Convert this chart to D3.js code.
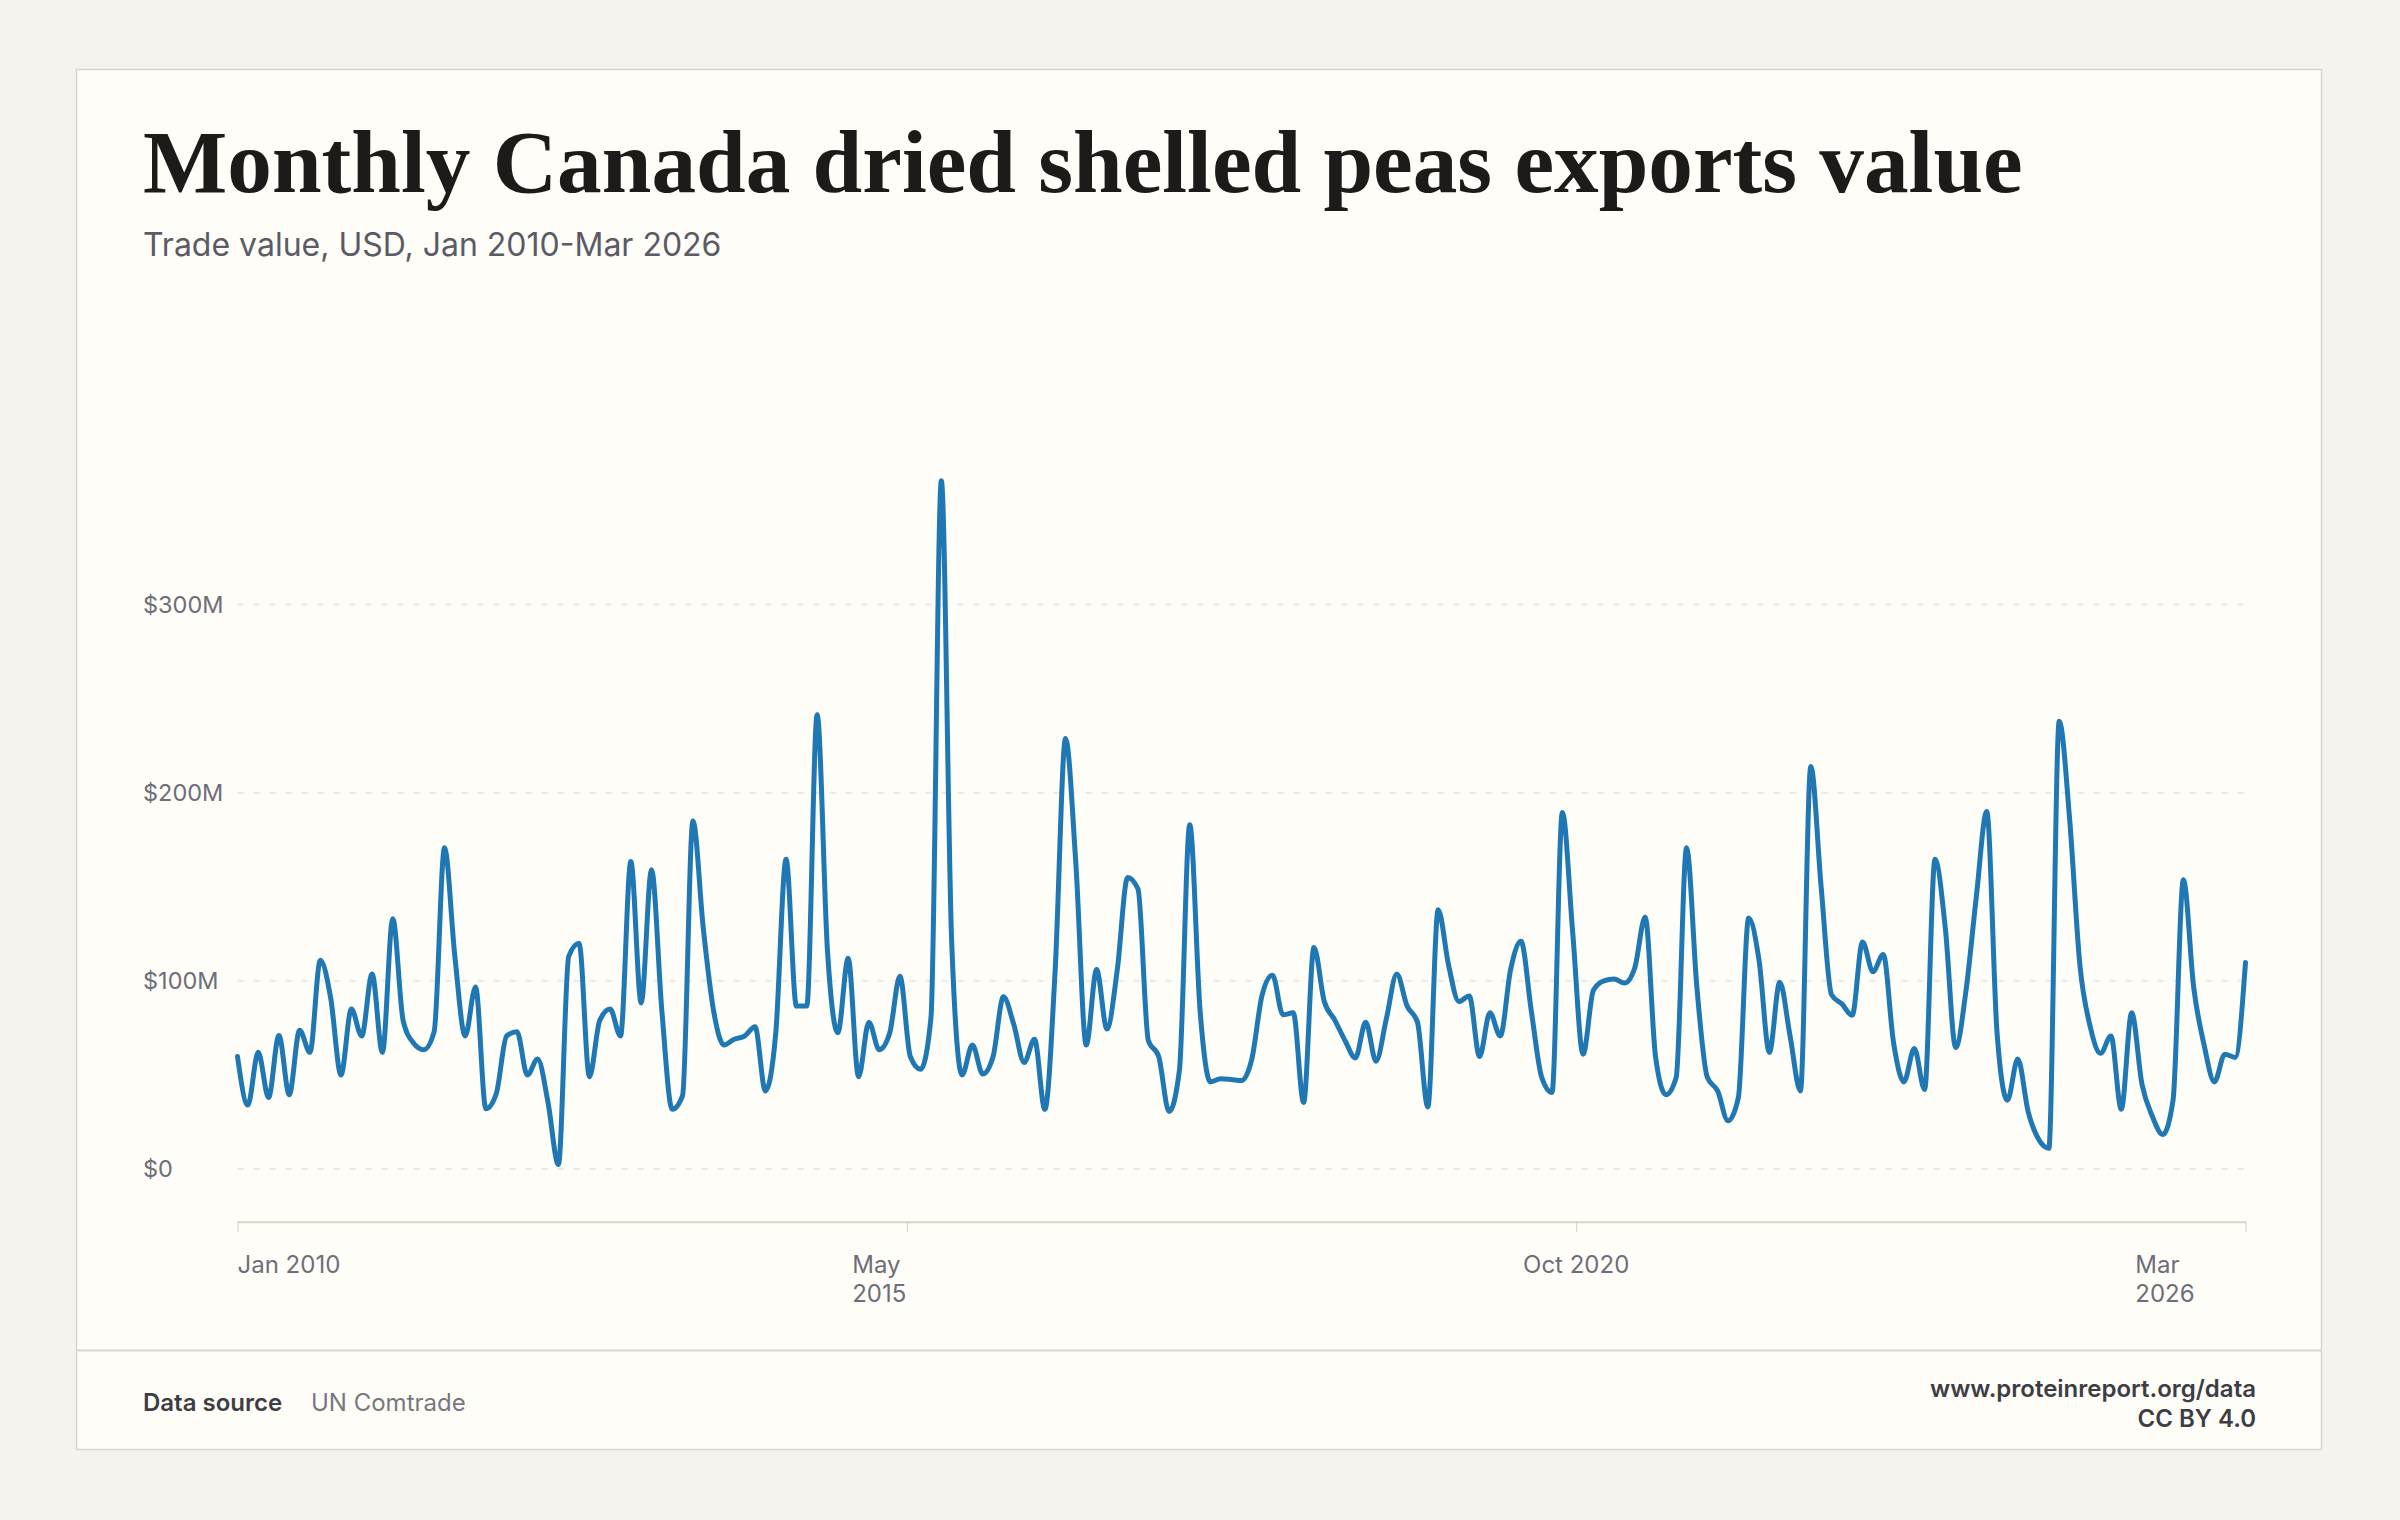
<!DOCTYPE html>
<html>
<head>
<meta charset="utf-8">
<script src="https://cdn.jsdelivr.net/npm/d3@7"></script>
<style>
  html, body { margin: 0; padding: 0; background: #f5f3ee; }
  svg { display: block; }
  .sans { font-family: Inter, 'Noto Sans', sans-serif; }
</style>
</head>
<body>
<div id="chart"></div>
<script>
// Monthly exports, million USD, Jan 2010 .. Mar 2026
var values = [
  59.8, 34, 62, 38, 71, 39.5, 73.7, 62, 111, 91, 50, 85,
  70.7, 103.7, 62, 133, 79, 67, 63.4, 73, 170.7, 113, 70.7, 96.8,
  32, 40, 70.7, 73, 50, 58.5, 35.4, 2.4, 113, 120, 49, 79,
  85, 70.7, 163.4, 88.3, 159, 84, 31.7, 39, 185, 128, 84, 65.9,
  69, 70.7, 75.6, 41.5, 72, 164.6, 86.6, 86.6, 241.5, 116, 72.4, 112,
  49, 78, 63.4, 72, 102.4, 59.8, 53, 80.5, 365.8, 120.7, 50, 65.9,
  50.5, 59.8, 91.5, 76.8, 56.6, 69, 31.7, 106, 228.8, 162, 65.9, 106,
  74.4, 106, 155, 148.8, 68.3, 59.8, 30.5, 52.4, 183, 84, 46.3, 48,
  47.6, 47, 58.5, 92.7, 103, 82, 83, 35.4, 117.8, 89, 79.3, 68.3,
  59, 78, 57.3, 80, 103.6, 86.6, 78, 33, 137.8, 108.5, 89, 92,
  59.8, 83, 70.7, 106, 121, 84, 48.8, 40.7, 189.5, 125.6, 61, 95,
  100, 101, 98.8, 107, 134, 59.8, 39.5, 48.8, 170.7, 96.3, 48.8, 41.5,
  25.6, 37.8, 133.4, 111, 62, 99.3, 70.7, 41.5, 214, 150, 92.7, 87.8,
  81.7, 120.7, 104.9, 114, 67, 46.3, 64, 42.2, 164.6, 128, 64.6, 95,
  145, 190, 72, 36.6, 58.5, 30.5, 15.9, 11, 238, 186.6, 108.5, 75.6,
  61.5, 70.7, 31.7, 83, 45, 28, 18.3, 36.6, 153.7, 96.3, 65.9, 46.3,
  61, 59.3, 109.8
];

var yTicks = [0, 100, 200, 300];
var yTickLabels = ['$0', '$100M', '$200M', '$300M'];
var xTickLabels = [['Jan 2010'], ['May', '2015'], ['Oct 2020'], ['Mar', '2026']];

var titleText = 'Monthly Canada dried shelled peas exports value';
var subtitleText = 'Trade value, USD, Jan 2010-Mar 2026';

var render = function () {
  var width = 2400;
  var height = 1520;

  var svg = d3.select('#chart')
    .append('svg')
    .attr('width', width)
    .attr('height', height);

  svg.append('rect')
    .attr('width', width)
    .attr('height', height)
    .attr('fill', '#f5f3ee');

  // card
  svg.append('rect')
    .attr('x', 76.5)
    .attr('y', 69.5)
    .attr('width', 2245)
    .attr('height', 1380)
    .attr('fill', '#fffdf8')
    .attr('stroke', '#d9d5cb')
    .attr('stroke-width', 1.5);

  svg.append('line')
    .attr('x1', 77).attr('x2', 2321)
    .attr('y1', 1350.5).attr('y2', 1350.5)
    .attr('stroke', '#d9d5cb')
    .attr('stroke-width', 2);

  // title, sized to the reference width
  var title = svg.append('text')
    .attr('x', 143)
    .attr('y', 192)
    .attr('font-family', "'Liberation Serif', 'DejaVu Serif', serif")
    .attr('font-weight', 700)
    .attr('font-size', 84)
    .attr('fill', '#1c1b1a')
    .text(titleText);
  var tw = title.node().getComputedTextLength();
  title.attr('font-size', 84 * 1880 / tw);

  svg.append('text')
    .attr('class', 'sans')
    .attr('x', 143)
    .attr('y', 256)
    .attr('font-size', 32)
    .attr('fill', '#5b5b66')
    .text(subtitleText);

  var x = d3.scaleLinear()
    .domain([0, values.length - 1])
    .range([237.5, 2245.5]);

  var y = d3.scaleLinear()
    .domain([0, 300])
    .range([1169, 604.6]);

  // grid
  svg.append('g')
    .selectAll('line')
    .data(yTicks)
    .enter()
    .append('line')
    .attr('x1', x.range()[0])
    .attr('x2', x.range()[1])
    .attr('y1', d => y(d))
    .attr('y2', d => y(d))
    .attr('stroke', '#ebe8e0')
    .attr('stroke-width', 2)
    .attr('stroke-dasharray', '6 10');

  svg.append('g')
    .selectAll('text')
    .data(yTicks)
    .enter()
    .append('text')
    .attr('class', 'sans')
    .attr('x', 143)
    .attr('y', d => y(d))
    .attr('dy', '0.36em')
    .attr('font-size', 23.5)
    .attr('fill', '#6e6e78')
    .text((d, i) => yTickLabels[i]);

  // x axis
  var n = values.length - 1;
  var xTickValues = [0, n / 3, (2 * n) / 3, n];

  var axis = svg.append('g')
    .attr('transform', 'translate(0,1221.7)')
    .call(d3.axisBottom(x)
      .tickValues(xTickValues)
      .tickFormat('')
      .tickSize(10)
      .tickSizeOuter(0));
  axis.select('.domain').attr('stroke', '#d8d3c7').attr('stroke-width', 2);
  axis.selectAll('.tick line').attr('stroke', '#d3cfc6').attr('stroke-width', 1);

  xTickValues.forEach(function (v, i) {
    var lines = xTickLabels[i];
    var t = svg.append('text')
      .attr('class', 'sans')
      .attr('font-size', 24)
      .attr('fill', '#6e6e78')
      .attr('y', 1272.7);
    // box width = width of the label on one line
    t.text(lines.join(' '));
    var w = t.node().getComputedTextLength();
    var left = x(v);
    if (i == xTickValues.length - 1) {
      left = x(v) - w;
    } else if (i > 0) {
      left = x(v) - w / 2;
    }
    t.text('');
    lines.forEach(function (l, j) {
      t.append('tspan')
        .attr('x', left)
        .attr('y', 1272.7 + j * 29)
        .text(l);
    });
  });

  var line = d3.line()
    .x((d, i) => x(i))
    .y(d => y(d))
    .curve(d3.curveMonotoneX);

  svg.append('path')
    .datum(values)
    .attr('d', line)
    .attr('fill', 'none')
    .attr('stroke', '#1f77b4')
    .attr('stroke-width', 5)
    .attr('stroke-linejoin', 'round')
    .attr('stroke-linecap', 'round');

  // footer
  svg.append('text')
    .attr('class', 'sans')
    .attr('x', 143)
    .attr('y', 1411)
    .attr('font-size', 24)
    .attr('font-weight', 600)
    .attr('fill', '#3d3d45')
    .text('Data source');

  svg.append('text')
    .attr('class', 'sans')
    .attr('x', 311)
    .attr('y', 1411)
    .attr('font-size', 24)
    .attr('fill', '#777781')
    .text('UN Comtrade');

  svg.append('text')
    .attr('class', 'sans')
    .attr('x', 2256)
    .attr('y', 1396.5)
    .attr('text-anchor', 'end')
    .attr('font-size', 24)
    .attr('font-weight', 600)
    .attr('fill', '#3d3d45')
    .text('www.proteinreport.org/data');

  svg.append('text')
    .attr('class', 'sans')
    .attr('x', 2256)
    .attr('y', 1427)
    .attr('text-anchor', 'end')
    .attr('font-size', 24)
    .attr('font-weight', 600)
    .attr('fill', '#3d3d45')
    .text('CC BY 4.0');
};

render();
</script>
</body>
</html>
